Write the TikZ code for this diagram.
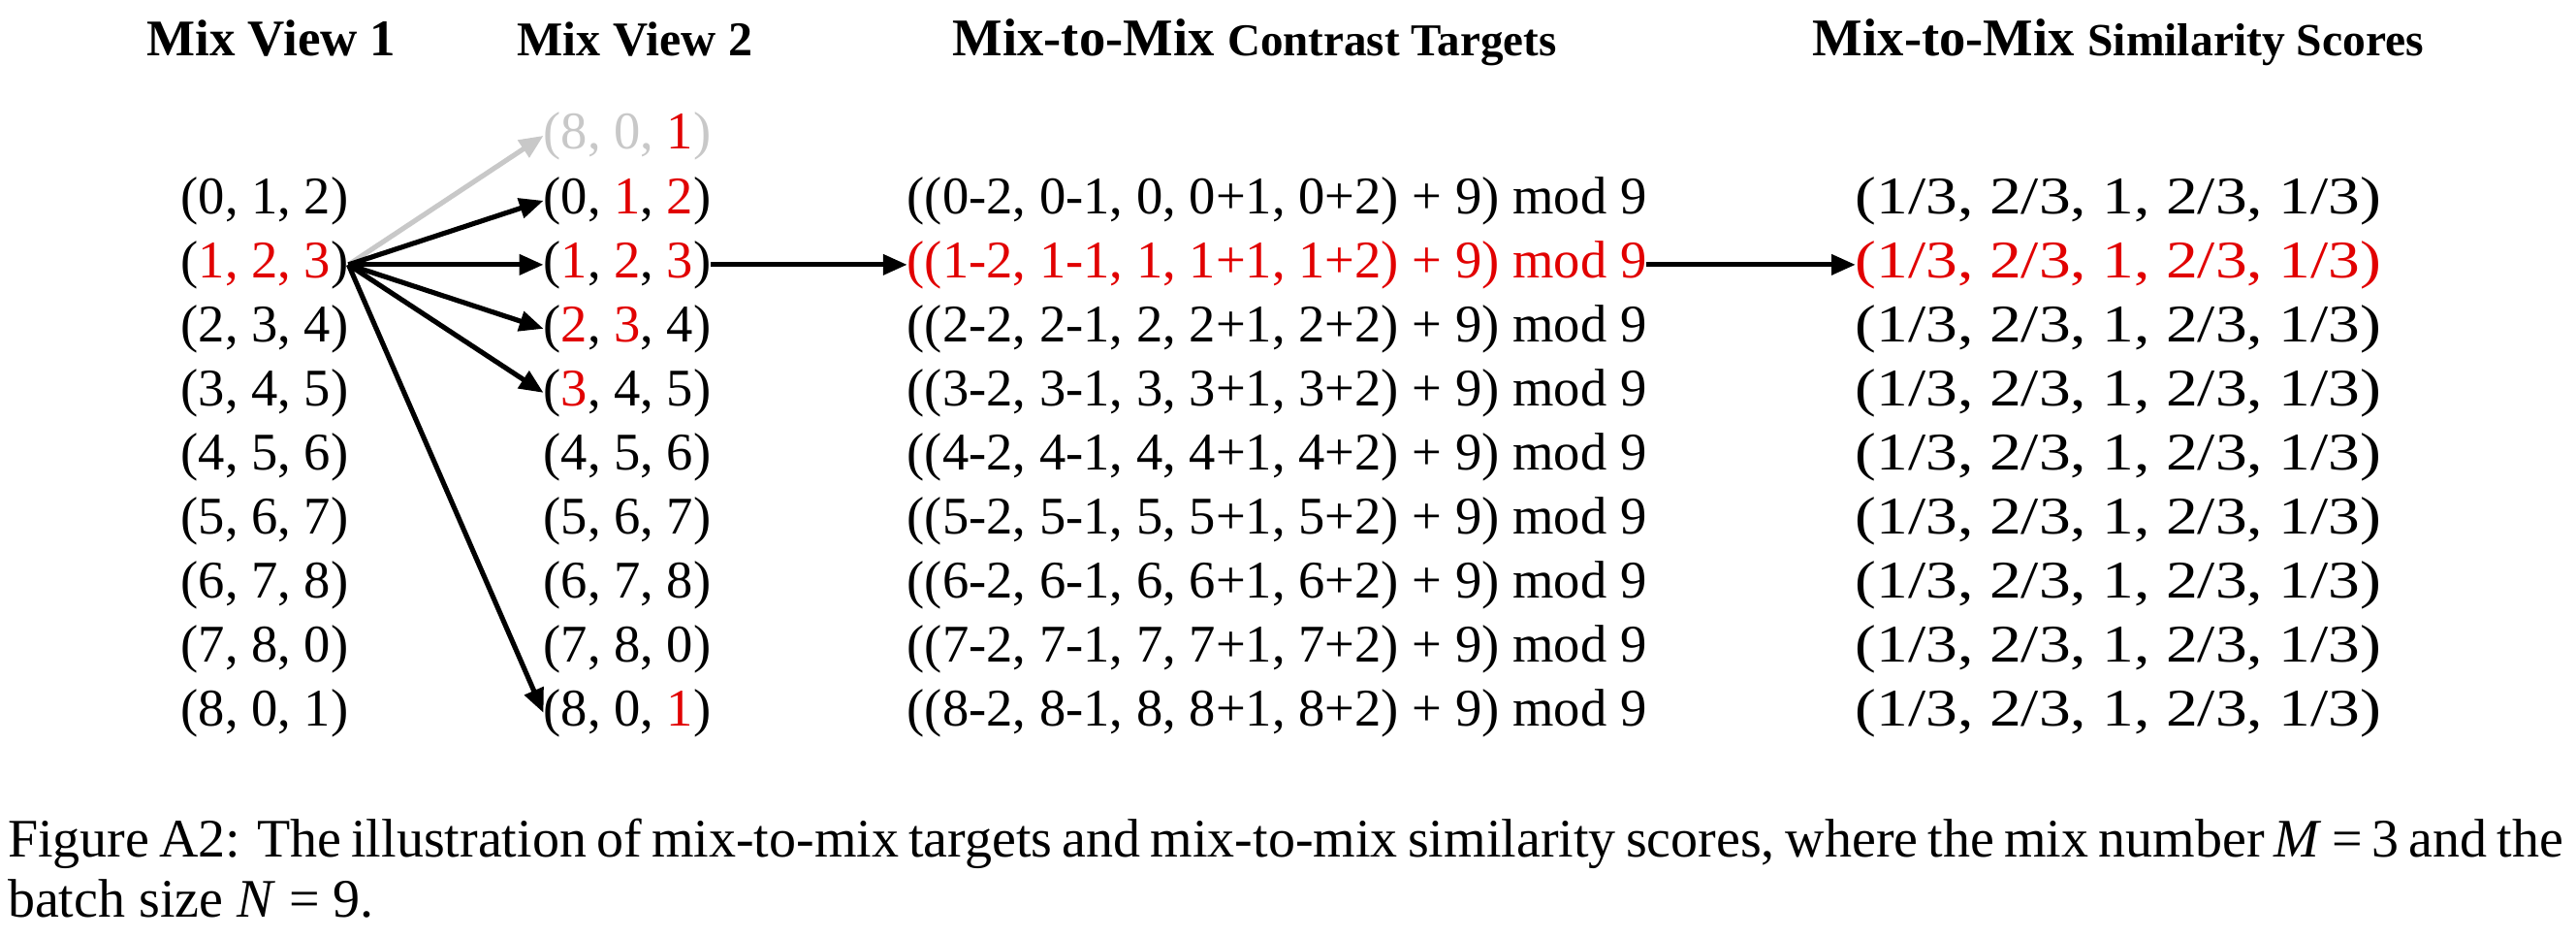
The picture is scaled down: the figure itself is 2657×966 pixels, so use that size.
\documentclass[tikz,border=0pt]{standalone}
\usepackage{fontspec}
\setmainfont{Liberation Serif}
\usetikzlibrary{arrows.meta}
\definecolor{myred}{RGB}{225,0,0}
\definecolor{mygray}{RGB}{200,200,200}
\newcommand{\R}[1]{\textcolor{myred}{#1}}
\newcommand{\wide}[1]{\scalebox{1.2}[1]{#1}}
\tikzset{
  cell/.style={inner sep=0pt, outer sep=0pt, anchor=base, font=\fontsize{10.1}{12}\selectfont},
  head/.style={inner sep=0pt, anchor=base, font=\bfseries},
  arr/.style={line width=0.95pt, -{Triangle[length=4.6pt,width=3.8pt]}},
  garr/.style={arr, draw=mygray},
  captext/.style={inner sep=0pt, anchor=base west, font=\fontsize{10.36}{12}\selectfont}
}
\begin{document}
\begin{tikzpicture}[x=0.185pt,y=-0.185pt]
\useasboundingbox (0,0) rectangle (2657,966);
% headers
\node[head] (h1) at (280,57) {\fontsize{9.8}{12}\selectfont Mix View 1};
\node[head] (h2) at (655,57) {\fontsize{9.25}{12}\selectfont Mix View 2};
\node[head] (h3) at (1294,57) {\fontsize{10.1}{12}\selectfont Mix-to-Mix \fontsize{8.7}{12}\selectfont Contrast Targets};
\node[head] (h4) at (2185,57) {\fontsize{10.1}{12}\selectfont Mix-to-Mix \fontsize{8.8}{12}\selectfont Similarity Scores};
% column 1
\node[cell] (a0) at (273,220) {(0, 1, 2)};
\node[cell] (a1) at (273,286) {(\R{1, 2, 3})};
\node[cell] (a2) at (273,352) {(2, 3, 4)};
\node[cell] (a3) at (273,418) {(3, 4, 5)};
\node[cell] (a4) at (273,484) {(4, 5, 6)};
\node[cell] (a5) at (273,550) {(5, 6, 7)};
\node[cell] (a6) at (273,616) {(6, 7, 8)};
\node[cell] (a7) at (273,682) {(7, 8, 0)};
\node[cell] (a8) at (273,748) {(8, 0, 1)};
% column 2
\node[cell,text=mygray] (bg) at (647,153) {(8, 0, \R{1})};
\node[cell] (b0) at (647,220) {(0, \R{1}, \R{2})};
\node[cell] (b1) at (647,286) {(\R{1}, \R{2}, \R{3})};
\node[cell] (b2) at (647,352) {(\R{2}, \R{3}, 4)};
\node[cell] (b3) at (647,418) {(\R{3}, 4, 5)};
\node[cell] (b4) at (647,484) {(4, 5, 6)};
\node[cell] (b5) at (647,550) {(5, 6, 7)};
\node[cell] (b6) at (647,616) {(6, 7, 8)};
\node[cell] (b7) at (647,682) {(7, 8, 0)};
\node[cell] (b8) at (647,748) {(8, 0, \R{1})};
% column 3
\foreach \i in {0,...,8}{
  \pgfmathtruncatemacro{\yy}{220+66*\i}
  \ifnum\i=1
    \node[cell,text=myred] (c\i) at (1317,\yy) {((\i-2, \i-1, \i, \i+1, \i+2) + 9) mod 9};
  \else
    \node[cell] (c\i) at (1317,\yy) {((\i-2, \i-1, \i, \i+1, \i+2) + 9) mod 9};
  \fi
}
% column 4
\foreach \i in {0,...,8}{
  \pgfmathtruncatemacro{\yy}{220+66*\i}
  \ifnum\i=1
    \node[cell,text=myred] (d\i) at (2185,\yy) {\wide{(1/3, 2/3, 1, 2/3, 1/3)}};
  \else
    \node[cell] (d\i) at (2185,\yy) {\wide{(1/3, 2/3, 1, 2/3, 1/3)}};
  \fi
}
% arrows
\draw[garr] (a1.east) -- (bg.west);
\draw[arr] (a1.east) -- (b0.west);
\draw[arr] (a1.east) -- (b1.west);
\draw[arr] (a1.east) -- (b2.west);
\draw[arr] (a1.east) -- (b3.west);
\draw[arr] (a1.east) -- (b8.west);
\draw[arr] (b1.east) -- (c1.west);
\draw[arr] (c1.east) -- (d1.west);
% caption
\node[captext] (cap1) at (7,883) {\makebox[487.7pt][s]{Figure A2: The illustration of mix-to-mix targets and mix-to-mix similarity scores, where the mix number \textit{M} = 3 and the}};
\node[captext] (cap2) at (7,945) {batch size \textit{N} = 9.};
\end{tikzpicture}
\end{document}
